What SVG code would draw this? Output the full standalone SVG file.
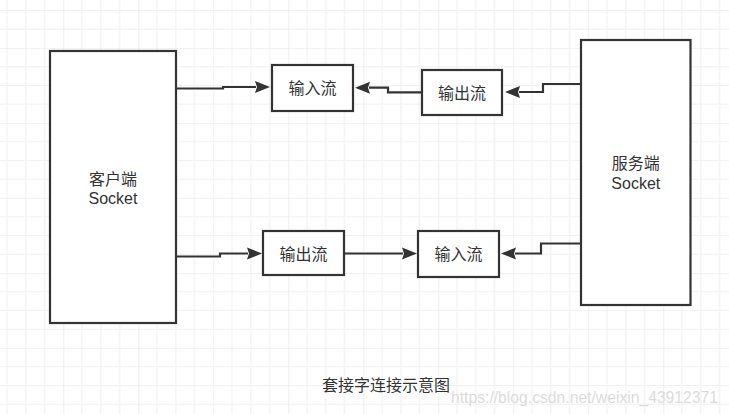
<svg xmlns="http://www.w3.org/2000/svg" width="729" height="414" viewBox="0 0 729 414">
<defs>
<pattern id="grid" patternUnits="userSpaceOnUse" x="63.3" y="48" width="75" height="75">
<rect x="0" y="0" width="75" height="75" fill="#ffffff"/>
<g stroke="#f1f1f1" stroke-width="1.2">
<line x1="18.75" y1="0" x2="18.75" y2="75"/>
<line x1="37.5" y1="0" x2="37.5" y2="75"/>
<line x1="56.25" y1="0" x2="56.25" y2="75"/>
<line x1="0" y1="18.75" x2="75" y2="18.75"/>
<line x1="0" y1="37.5" x2="75" y2="37.5"/>
<line x1="0" y1="56.25" x2="75" y2="56.25"/>
</g>
<g stroke="#e4e4e4" stroke-width="1.2">
<line x1="0" y1="0" x2="0" y2="75"/>
<line x1="0" y1="0" x2="75" y2="0"/>
</g>
</pattern>
<marker id="arrow" markerUnits="userSpaceOnUse" markerWidth="17" markerHeight="14" viewBox="0 -7 17 14" refX="1" refY="0" orient="auto">
<path d="M0,-6 L15,0 L0,6 L2,0 Z" fill="#333333"/>
</marker>
<style>
.box{fill:#ffffff;stroke:#333333;stroke-width:2.2}
.lbl{font-family:"Noto Sans CJK SC","Noto Sans",sans-serif;font-size:16px;fill:#333333;text-anchor:middle}
.lat{font-family:"Liberation Sans",Arial,sans-serif;font-size:16px;fill:#333333;text-anchor:middle}
.edge{fill:none;stroke:#333333;stroke-width:2.2;marker-end:url(#arrow)}
</style>
</defs>
<rect x="0" y="0" width="729" height="414" fill="url(#grid)"/>
<g id="client">
<rect class="box" x="50" y="51" width="126" height="272"/>
<text class="lbl" x="113" y="184.5">客户端</text>
<text class="lat" x="113" y="204">Socket</text>
</g>
<g id="server">
<rect class="box" x="581" y="40" width="109.5" height="265"/>
<text class="lbl" x="635.8" y="168.5">服务端</text>
<text class="lat" x="635.8" y="188.5">Socket</text>
</g>
<g id="in-top">
<rect class="box" x="272" y="65" width="81" height="46"/>
<text class="lbl" x="312.5" y="94">输入流</text>
</g>
<g id="out-top">
<rect class="box" x="422" y="70" width="80" height="45"/>
<text class="lbl" x="462" y="98.5">输出流</text>
</g>
<g id="out-bottom">
<rect class="box" x="263" y="231" width="81" height="44"/>
<text class="lbl" x="303.5" y="260">输出流</text>
</g>
<g id="in-bottom">
<rect class="box" x="418" y="231" width="81" height="46"/>
<text class="lbl" x="458.5" y="260">输入流</text>
</g>
<g id="connectors">
<path class="edge" d="M176,88.5 H223 V87 H256"/>
<path class="edge" d="M581,84 H543 V92 H519"/>
<path class="edge" d="M422,92.3 H388 V87.7 H369"/>
<path class="edge" d="M176,256.5 H220 V253.5 H248"/>
<path class="edge" d="M344,253.5 H403"/>
<path class="edge" d="M581,243.5 H541 V253.5 H515"/>
</g>
<text class="lbl" x="386" y="391">套接字连接示意图</text>
<text x="451" y="403" textLength="267" lengthAdjust="spacingAndGlyphs" font-family="'Liberation Sans',Arial,sans-serif" font-size="16" fill="#d4d4d4" fill-opacity="0.85">https://blog.csdn.net/weixin_43912371</text>
</svg>
